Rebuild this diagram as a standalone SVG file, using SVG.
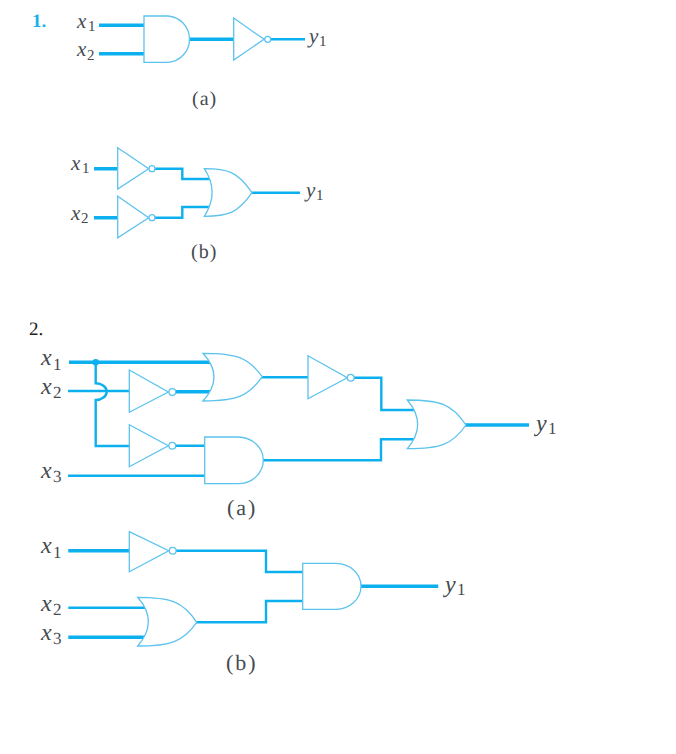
<svg xmlns="http://www.w3.org/2000/svg" width="676" height="754" viewBox="0 0 676 754">
<style>
.g{fill:#fff;stroke:#5cc3ee;stroke-width:1.3;stroke-linejoin:miter}
.w{fill:none;stroke:#0db0ee;stroke-width:2.4}
.t{stroke-width:3.6}
.d{fill:#0db0ee}
text{font-family:"Liberation Serif","Times New Roman",serif;fill:#454a4f;text-rendering:geometricPrecision}
.v{font-style:italic;font-size:21px}
.s{font-size:15px}
.V{font-style:italic;font-size:24px}
.S{font-size:17px}
.c{font-size:20px;letter-spacing:1px}
.C{font-size:22px;letter-spacing:2px}
</style>
<rect width="676" height="754" fill="#fff"/>
<g id="connectors">
<path class="w t" d="M99 25.3H145M99 53.7H145M188 39.3H234"/>
<path class="w" d="M270 39.3H305"/>
<path class="w t" d="M94 168.7H118M94 217.7H118"/>
<path class="w" d="M155 168.7H182.3V179H210M155 217.7H182.3V207H210"/>
<path class="w" d="M250 192.7H300"/>
<path class="w t" d="M69 362.3H212"/>
<path class="w" d="M95.7 362.3V383.3A11 8.35 0 0 1 95.7 400V446H130"/>
<path class="w" d="M68 391H130"/>
<path class="w t" d="M175 391.7H212"/>
<path class="w" d="M175 445.7H206M68 475.7H206"/>
<path class="w" d="M260 377.3H309"/>
<path class="w" d="M261 460.3H381V439.3H416"/>
<path class="w" d="M353.5 377.7H381.3V410H416"/>
<path class="w t" d="M464 425H529"/>
<circle class="d" cx="95.7" cy="362.3" r="3.3"/>
<path class="w t" d="M68.3 550.7H130"/>
<path class="w" d="M175.5 550.7H266V572H304"/>
<path class="w" d="M195 622.3H266V601H304"/>
<path class="w t" d="M359 586.3H438.3"/>
<path class="w" d="M68.3 607.7H146"/>
<path class="w t" d="M68.3 637.3H146"/>
</g>
<g id="and-1a"><path class="g" d="M144 16H168A23 23.2 0 0 1 168 62.3H144Z"/></g>
<g id="not-1a"><path class="g" d="M233.7 18L264 39.3L233.7 60Z"/><circle class="g" cx="267.7" cy="39.3" r="3"/></g>
<g id="not-1b-1"><path class="g" d="M117.7 147.7L148.7 168.7L117.7 189Z"/><circle class="g" cx="152" cy="168.7" r="3"/></g>
<g id="not-1b-2"><path class="g" d="M117.7 196.3L148.7 217.7L117.7 237.7Z"/><circle class="g" cx="152" cy="217.7" r="3"/></g>
<g id="or-1b"><path class="g" d="M204.3 168.7C228 168.7 238 172 252 192.7C238 213 228 216.3 204.3 216.3Q220 192.5 204.3 168.7Z"/></g>
<g id="or-2a-1"><path class="g" d="M203 353.3C236 353.3 248 357 262.3 376.7C248 397 236 401 203 401Q225 377 203 353.3Z"/></g>
<g id="not-2a-1"><path class="g" d="M129.3 370L168.3 392L129.3 412.3Z"/><circle class="g" cx="172.3" cy="392" r="3.4"/></g>
<g id="not-2a-2"><path class="g" d="M129.3 424.7L168.3 445.7L129.3 466.7Z"/><circle class="g" cx="172.3" cy="445.7" r="3.4"/></g>
<g id="and-2a"><path class="g" d="M204.7 437H238A25.3 23.35 0 0 1 238 483.7H204.7Z"/></g>
<g id="not-2a-3"><path class="g" d="M308 355.7L347.3 377.7L308 398.7Z"/><circle class="g" cx="350.7" cy="377.7" r="3.4"/></g>
<g id="or-2a-2"><path class="g" d="M407.3 400C440 400 452 404 466 425C452 445 440 448.7 407.3 448.7Q428 424.5 407.3 400Z"/></g>
<g id="not-2b"><path class="g" d="M129.3 531.7L168.7 550.7L129.3 571.7Z"/><circle class="g" cx="172.7" cy="550.7" r="3.4"/></g>
<g id="or-2b"><path class="g" d="M137.7 597.3C170 597.3 183 601 196.7 622.3C183 642 170 646 137.7 646Q159 621.5 137.7 597.3Z"/></g>
<g id="and-2b"><path class="g" d="M302.7 563.3H336A25 23 0 0 1 336 609.3H302.7Z"/></g>
<g id="labels">
<text x="32" y="27" font-size="19" font-weight="bold" style="fill:#19b2ee">1.</text>
<text x="77" y="28" class="v">x</text><text x="88" y="31" class="s">1</text>
<text x="77" y="56" class="v">x</text><text x="87" y="60" class="s">2</text>
<text x="309" y="43" class="v">y</text><text x="319" y="46" class="s">1</text>
<text x="192" y="105" class="c">(a)</text>
<text x="71" y="170" class="v">x</text><text x="82" y="173" class="s">1</text>
<text x="71" y="219.5" class="v">x</text><text x="81" y="223" class="s">2</text>
<text x="306" y="197" class="v">y</text><text x="316" y="200" class="s">1</text>
<text x="191" y="258" class="c">(b)</text>
<text x="29" y="335" font-size="19" style="fill:#222">2.</text>
<text x="41" y="365" class="V">x</text><text x="53" y="370" class="S">1</text>
<text x="41" y="394" class="V">x</text><text x="53" y="398" class="S">2</text>
<text x="41" y="478" class="V">x</text><text x="53" y="482" class="S">3</text>
<text x="536" y="431" class="V">y</text><text x="548" y="434" class="S">1</text>
<text x="227" y="515" class="C">(a)</text>
<text x="41" y="553" class="V">x</text><text x="53" y="558" class="S">1</text>
<text x="41" y="611" class="V">x</text><text x="53" y="615" class="S">2</text>
<text x="41" y="640" class="V">x</text><text x="53" y="644" class="S">3</text>
<text x="445" y="592" class="V">y</text><text x="457" y="595" class="S">1</text>
<text x="226" y="670" class="C">(b)</text>
</g>
</svg>
